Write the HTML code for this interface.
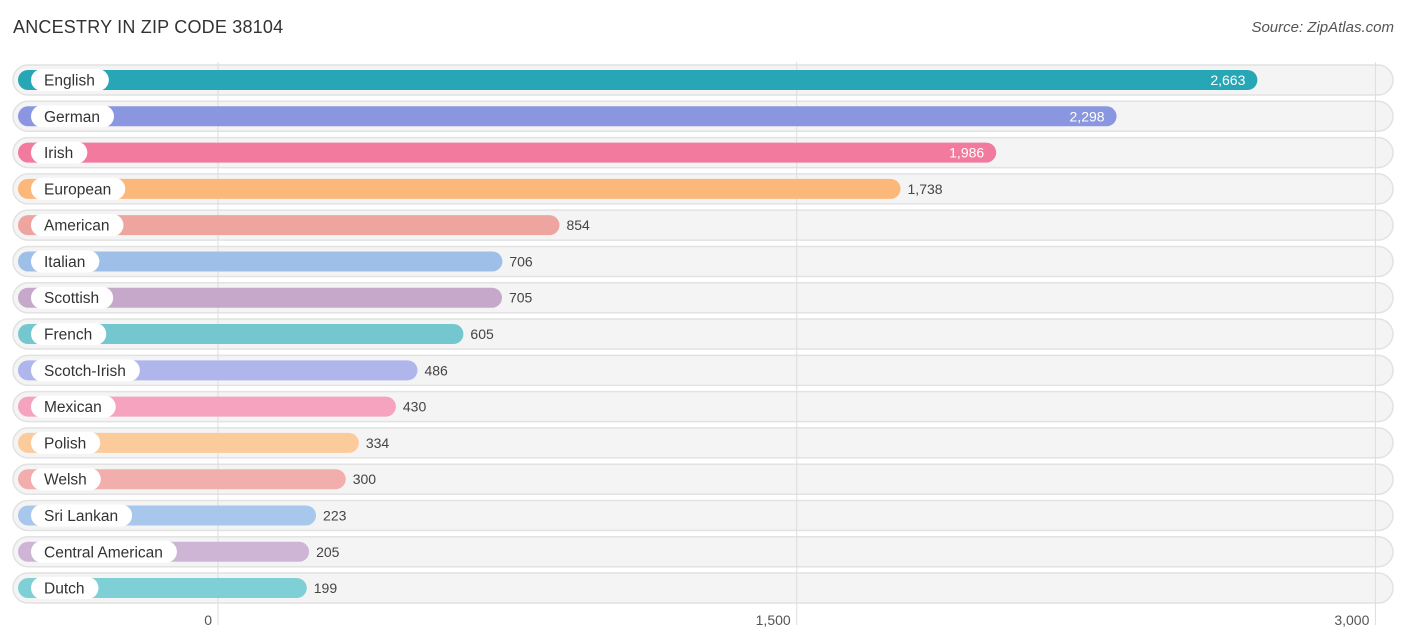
<!DOCTYPE html>
<html><head><meta charset="utf-8"><style>
body{margin:0;background:#fff;width:1406px;height:644px;overflow:hidden;font-family:"Liberation Sans",Arial,sans-serif}
#title{position:absolute;left:13px;top:17px;font-size:18px;color:#333;letter-spacing:0.2px}
#source{position:absolute;right:12px;top:19px;font-size:15px;color:#555;font-style:italic}
svg{position:absolute;left:0;top:0}
</style></head><body>
<div id="title">ANCESTRY IN ZIP CODE 38104</div>
<div id="source">Source: ZipAtlas.com</div>
<svg id="chart" width="1406" height="644"></svg>
<script>
const categories=["English","German","Irish","European","American","Italian","Scottish","French","Scotch-Irish","Mexican","Polish","Welsh","Sri Lankan","Central American","Dutch"];
const values=[2663,2298,1986,1738,854,706,705,605,486,430,334,300,223,205,199];
const colors=["#27a6b5","#8a97e0","#f27a9f","#fbb87a","#eea59f","#9dbfe8","#c6a8cb","#74c7cf","#aeb6ec","#f5a3bf","#fccb9c","#f2aeac","#a8c7ec","#cfb5d5","#7fd0d6"];
const ticks=[0,1500,3000];
const tickLabels=["0","1,500","3,000"];
const NS="http://www.w3.org/2000/svg";
const svg=document.getElementById('chart');
const x=v=>218+v*(578.7/1500);
const y=i=>80+i*36.29;
function mk(t,a){const e=document.createElementNS(NS,t);for(const k in a)e.setAttribute(k,a[k]);return e;}
categories.forEach((c,i)=>{
  const cy=y(i);
  const tr=mk('rect',{x:13,y:cy-15,width:1380,height:30,rx:15,fill:'#f4f4f4',stroke:'#e2e2e2','stroke-width':1.5});
  
  
  svg.appendChild(tr);
});
ticks.forEach((t,i)=>{
  const l=mk('line',{x1:x(t),x2:x(t),y1:62,y2:625,stroke:'#ddd','stroke-width':1});
  
  
  svg.appendChild(l);
  const tx=mk('text',{x:x(t)-6,y:625,'text-anchor':'end','font-size':14,fill:'#555'});
  tx.textContent=tickLabels[i];
  
  
  svg.appendChild(tx);
});
categories.forEach((c,i)=>{
  const cy=y(i);
  const end=x(values[i])+12;
  const b=mk('rect',{x:18,y:cy-10,width:end-18,height:20,rx:10,fill:colors[i]});
  
  
  svg.appendChild(b);
  const p=mk('rect',{x:31,y:cy-11,width:60,height:22,rx:11,fill:'#fff'});
  
  
  svg.appendChild(p);
  const lt=mk('text',{x:44,y:cy+5.5,'font-size':15.5,fill:'#333'});
  lt.textContent=c;
  
  
  svg.appendChild(lt);
  p.setAttribute('width',lt.getComputedTextLength()+27);
  const inside=i<3;
  const vt=mk('text',{x:inside?end-12:end+7,y:cy+5,'font-size':14,'text-anchor':inside?'end':'start',fill:inside?'#fff':'#444'});
  vt.textContent=values[i].toLocaleString('en-US');
  
  
  svg.appendChild(vt);
});
</script>
</body></html>
